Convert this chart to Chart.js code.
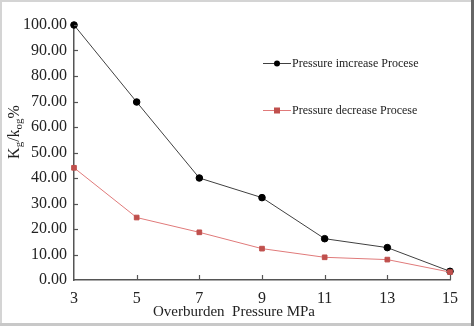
<!DOCTYPE html>
<html><head><meta charset="utf-8">
<script src="https://cdn.jsdelivr.net/npm/chart.js@4/dist/chart.umd.min.js"></script>
<style>html,body{margin:0;padding:0;background:#fff;}canvas{display:block;}</style>
</head><body>
<canvas id="c" width="474" height="326"></canvas>
<script>
const pressures = [3, 5, 7, 9, 11, 13, 15];
const increaseValues = [100.0, 69.8, 40.0, 32.3, 16.2, 12.7, 3.4];
const decreaseValues = [44.0, 24.5, 18.7, 12.3, 8.9, 8.0, 3.1];
const seriesNames = ['Pressure imcrease Procese', 'Pressure decrease Procese'];
const xTitle = 'Overburden  Pressure MPa';
const SERIF = '"Liberation Serif", "Times New Roman", serif';

const extras = {
  id: 'extras',
  afterDraw(chart) {
    const ctx = chart.ctx, x = chart.scales.x, y = chart.scales.y;
    ctx.save();
    // inner tick marks
    ctx.strokeStyle = '#555'; ctx.lineWidth = 1.2;
    x.ticks.forEach(t => {
      if (t.value === x.min) return;
      const px = Math.round(x.getPixelForValue(t.value)) + 0.5;
      ctx.beginPath(); ctx.moveTo(px, y.bottom); ctx.lineTo(px, y.bottom - 5); ctx.stroke();
    });
    y.ticks.forEach(t => {
      if (t.value === y.min) return;
      const py = Math.round(y.getPixelForValue(t.value)) + 0.5;
      ctx.beginPath(); ctx.moveTo(x.left, py); ctx.lineTo(x.left + 4, py); ctx.stroke();
    });
    // x title
    ctx.fillStyle = '#222'; ctx.font = '15px ' + SERIF;
    ctx.textAlign = 'center'; ctx.textBaseline = 'middle';
    ctx.fillText(xTitle, 234, 312);
    ctx.textAlign = 'left';
    // y title with subscripts
    ctx.translate(15, 132);
    ctx.rotate(-Math.PI / 2);
    ctx.fillStyle = '#222'; ctx.textBaseline = 'middle';
    const parts = [['K', 16, 0], ['g', 11, 4], ['/k', 16, 0], ['og', 11, 4], ['%', 16, 0]];
    let total = 0;
    parts.forEach(p => { ctx.font = p[1] + 'px ' + SERIF; total += ctx.measureText(p[0]).width; });
    let cx = -total / 2;
    parts.forEach(p => {
      ctx.font = p[1] + 'px ' + SERIF;
      ctx.fillText(p[0], cx, p[2]);
      cx += ctx.measureText(p[0]).width;
    });
    ctx.restore();
    // legend
    ctx.save();
    const ds = chart.data.datasets;
    const legendRows = [{d: ds[1], y: 63}, {d: ds[0], y: 110}];
    legendRows.forEach(r => {
      ctx.strokeStyle = r.d.borderColor; ctx.lineWidth = 1;
      ctx.beginPath(); ctx.moveTo(263, r.y + 0.5); ctx.lineTo(291, r.y + 0.5); ctx.stroke();
      ctx.fillStyle = r.d.pointBackgroundColor;
      if (r.d.pointStyle === 'rect') ctx.fillRect(274, r.y - 2.5, 6, 6);
      else { ctx.beginPath(); ctx.arc(277, r.y + 0.5, 3, 0, Math.PI * 2); ctx.fill(); }
      ctx.fillStyle = '#222'; ctx.font = '12px ' + SERIF; ctx.textBaseline = 'middle';
      ctx.fillText(r.d.label, 292, r.y + 1);
    });
    // frame
    ctx.fillStyle = '#d4d4d4';
    ctx.fillRect(0, 0, 474, 2);
    ctx.fillRect(0, 0, 2, 326);
    ctx.fillStyle = '#c8c8c8';
    ctx.fillRect(0, 323, 474, 3);
    ctx.fillStyle = '#666';
    ctx.fillRect(471, 0, 3, 326);
    ctx.restore();
  }
};

new Chart(document.getElementById('c'), {
  type: 'line',
  data: {
    datasets: [
      {
        label: seriesNames[1],
        data: pressures.map((p, i) => ({x: p, y: decreaseValues[i]})),
        borderColor: '#e07a7a', borderWidth: 1,
        pointStyle: 'rect', pointRadius: 3.3, pointBorderWidth: 1,
        pointBackgroundColor: '#c0504d', pointBorderColor: '#c0504d',
        clip: false, order: 0
      },
      {
        label: seriesNames[0],
        data: pressures.map((p, i) => ({x: p, y: increaseValues[i]})),
        borderColor: '#404040', borderWidth: 1,
        pointStyle: 'circle', pointRadius: 3.3, pointBorderWidth: 1,
        pointBackgroundColor: '#000', pointBorderColor: '#000',
        clip: false, order: 1
      }
    ]
  },
  options: {
    responsive: false, animation: false,
    layout: {padding: {left: 0, top: 25, right: 24, bottom: 0}},
    plugins: {legend: {display: false}, tooltip: {enabled: false}},
    scales: {
      x: {
        type: 'linear', min: 3, max: 15,
        grid: {display: false, drawTicks: false, tickLength: 0},
        border: {color: '#555', width: 1.5},
        ticks: {stepSize: 2, padding: 9, color: '#222', font: {family: SERIF, size: 16}},
        afterFit(s) { s.height = 46; }
      },
      y: {
        min: 0, max: 100,
        grid: {display: false, drawTicks: false, tickLength: 0},
        border: {color: '#555', width: 1.5},
        ticks: {stepSize: 10, padding: 7, color: '#222', font: {family: SERIF, size: 16},
          callback: v => Number(v).toFixed(2)},
        afterFit(s) { s.width = 74; }
      }
    }
  },
  plugins: [extras]
});
</script>
</body></html>
